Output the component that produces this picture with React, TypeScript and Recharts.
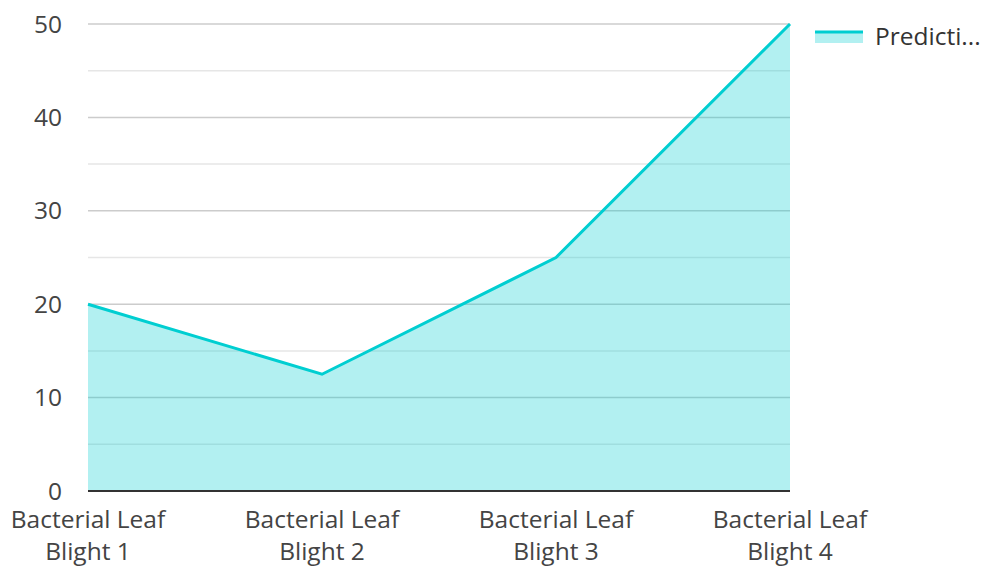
import React from "react";
import { AreaChart, Area, XAxis, YAxis, CartesianGrid } from "recharts";

const categories = [
  "Bacterial Leaf Blight 1",
  "Bacterial Leaf Blight 2",
  "Bacterial Leaf Blight 3",
  "Bacterial Leaf Blight 4",
];
const predictions = [20, 12.5, 25, 50];
const majorTicks = [0, 10, 20, 30, 40, 50];
const minorTicks = [5, 15, 25, 35, 45];
const legendLabel = "Predicti...";

const data = categories.map((name, i) => ({ name, value: predictions[i] }));

const FONT = "'Open Sans', 'Noto Sans', sans-serif";
const TEAL = "#00CED1";
const FS = 24.5;

// splits "Bacterial Leaf Blight 1" into two lines like the reference
const WrappedTick = ({ x, y, payload }: any) => {
  const words = String(payload.value).split(" ");
  const first = words.slice(0, 2).join(" ");
  const second = words.slice(2).join(" ");
  return (
    <text
      x={x}
      y={y}
      textAnchor="middle"
      fill="#444"
      fontSize={FS}
      fontFamily={FONT}
    >
      <tspan x={x} dy={29}>
        {first}
      </tspan>
      <tspan x={x} dy={32}>
        {second}
      </tspan>
    </text>
  );
};

export default function App() {
  return (
    <div style={{ position: "absolute", left: 0, top: 0, width: 982, height: 566 }}>
      <AreaChart
        width={982}
        height={566}
        data={data}
        margin={{ top: 24, right: 192, bottom: 0, left: 0 }}
      >
        <CartesianGrid
          vertical={false}
          horizontalValues={minorTicks}
          stroke="#e6e6e6"
          strokeWidth={1.5}
        />
        <CartesianGrid
          vertical={false}
          horizontalValues={majorTicks}
          stroke="#cccccc"
          strokeWidth={1.5}
        />
        <XAxis
          dataKey="name"
          tick={<WrappedTick />}
          tickLine={false}
          axisLine={{ stroke: "#333", strokeWidth: 2 }}
          height={75}
          interval={0}
        />
        <YAxis
          domain={[0, 50]}
          ticks={majorTicks}
          width={88}
          tickSize={0}
          tickMargin={26}
          axisLine={false}
          tickLine={false}
          tick={{ fill: "#444", fontSize: FS, fontFamily: FONT }}
        />
        <Area
          type="linear"
          dataKey="value"
          stroke={TEAL}
          strokeWidth={3}
          fill={TEAL}
          fillOpacity={0.3}
          dot={false}
          activeDot={false}
          isAnimationActive={false}
        />
      </AreaChart>
      <div
        style={{
          position: "absolute",
          left: 815,
          top: 19,
          display: "flex",
          alignItems: "center",
          fontFamily: FONT,
          fontSize: FS,
          color: "#333",
          whiteSpace: "nowrap",
        }}
      >
        <svg width={48} height={14} style={{ marginRight: 12 }}>
          <rect x={0} y={3} width={48} height={11} fill={TEAL} fillOpacity={0.3} />
          <line x1={0} x2={48} y1={3} y2={3} stroke={TEAL} strokeWidth={3} />
        </svg>
        <span>{legendLabel}</span>
      </div>
    </div>
  );
}
